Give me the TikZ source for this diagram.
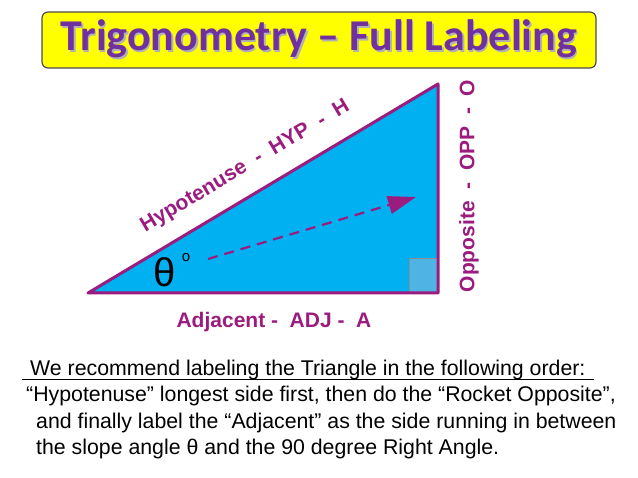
\documentclass[tikz,border=0pt]{standalone}
\usepackage{fontspec}
\setmainfont{Liberation Sans}
\newfontfamily\titlefont{Carlito}
\usetikzlibrary{positioning,arrows.meta}
\definecolor{plum}{HTML}{9B1B7E}
\definecolor{sky}{HTML}{00B0F0}
\definecolor{boxblue}{HTML}{4FB3E3}
\definecolor{violet}{HTML}{7030A0}
\definecolor{lemon}{HTML}{FFFF00}

\begin{document}
\begin{tikzpicture}[x=1pt,y=-1pt]
  \tikzset{ side/.style={plum,font=\bfseries\fontsize{21}{24}\selectfont,inner sep=2pt},
    txt/.style={anchor=base west,inner sep=0pt,font=\fontsize{21.3}{24}\selectfont},
  }
  \useasboundingbox (0,0) rectangle (638,478);

  % title
  \node[draw=black!70,line width=1.2pt,fill=lemon,rounded corners=6pt,
        minimum width=554pt,minimum height=56pt] (box) at (319,40) {};
  \node[text=black!30,font=\titlefont\bfseries\fontsize{44}{46}\selectfont] at (320.5,40.5) {Trigonometry – Full Labeling};
  \node[text=violet,font=\titlefont\bfseries\fontsize{44}{46}\selectfont] (title) at (319,39) {Trigonometry – Full Labeling};

  % the triangle
  \coordinate (A) at (88,293);
  \coordinate (B) at (438,293);
  \coordinate (C) at (438,84);
  \fill[sky] (A) -- (B) -- (C) -- cycle;
  \draw[fill=boxblue,draw=black!45,line width=1pt] (409,259) rectangle (B);
  \draw[plum,line width=3pt,line join=round] (A) -- (B) -- (C) -- cycle;

  % rocket arrow
  \coordinate (tail) at (208,259);
  \coordinate (tip) at (416,197);
  \draw[plum,line width=2.2pt,dash pattern=on 10pt off 7pt,
        -{Triangle[length=28pt,width=18pt]}] (tail) -- (tip);

  \node[font=\fontsize{40}{42}\selectfont] (theta) at (165,272) {θ};
  \node[font=\fontsize{15}{16}\selectfont] (deg) at (186,258) {o};

  % side names
  \path (A) -- (C) node[side,pos=0.49,sloped,above=16pt] (hyp) {Hypotenuse \ -\ \ HYP \ -\ \ H};
  \node[side,rotate=90] (opp) at (469,186) {Opposite \ -\ \ OPP \ -\ \ O};
  \node[side] (adj) at (274,322) {Adjacent - \ ADJ - \ A};

  % explanation
  \node[txt] (l1) at (30,376) {We recommend labeling the Triangle in the following order:};
  \draw[line width=1pt] ([yshift=-4pt]l1.base west) ++(-8,0) coordinate (u1) -- ([xshift=8pt,yshift=-4pt]l1.base east) coordinate (u2);
  \node[txt] (l2) at (26,402) {“Hypotenuse” longest side first, then do the “Rocket Opposite”,};
  \node[txt] (l3) at (36,429) {and finally label the “Adjacent” as the side running in between};
  \node[txt] (l4) at (36,455) {the slope angle θ and the 90 degree Right Angle.};
\end{tikzpicture}
\end{document}
